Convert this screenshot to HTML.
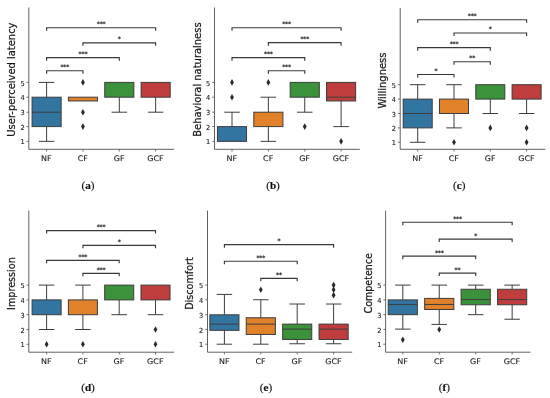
<!DOCTYPE html>
<html lang="en"><head><meta charset="utf-8"><title>Figure</title>
<style>html,body{margin:0;padding:0;background:#fff;}body{width:550px;height:398px;overflow:hidden;}svg{display:block;}.t{font-family:"DejaVu Sans","Liberation Sans",sans-serif;fill:#1a1a1a;}.t{stroke:#1a1a1a;stroke-width:0.25px;}.yt{stroke-width:0.1px;}.xt{stroke-width:0.12px;}.s{letter-spacing:-0.15px;stroke-width:0.22px;fill:#333;stroke:#333;}.cap{font-family:"Liberation Serif","DejaVu Serif",serif;fill:#111;font-size:11.2px;stroke:#111;stroke-width:0.15px;}</style></head><body>
<svg width="550" height="398" viewBox="0 0 550 398">
<rect width="550" height="398" fill="#fff"/>
<g id="fig" filter="url(#soft)">
<g id="panel-a">
<path d="M46.6 97.2V82.4M38.85 82.4H54.35" stroke="#3d3d3d" stroke-width="1.0" fill="none"/>
<path d="M46.6 126.6V141.35M38.85 141.35H54.35" stroke="#3d3d3d" stroke-width="1.0" fill="none"/>
<rect x="32.06" y="97.2" width="29.08" height="29.4" fill="#3274a1" stroke="#3d3d3d" stroke-width="1.0"/>
<path d="M32.06 112.2H61.14" stroke="#3d3d3d" stroke-width="1.0"/>
<rect x="68.41" y="97.2" width="29.08" height="3.75" fill="#e1812c" stroke="#3d3d3d" stroke-width="1.0"/>
<path d="M82.95 79.1L84.85 82.4L82.95 85.7L81.05 82.4Z" fill="#2b2b2b"/>
<path d="M82.95 108.9L84.85 112.2L82.95 115.5L81.05 112.2Z" fill="#2b2b2b"/>
<path d="M82.95 123.3L84.85 126.6L82.95 129.9L81.05 126.6Z" fill="#2b2b2b"/>
<path d="M119.3 97.2V112.2M111.55 112.2H127.05" stroke="#3d3d3d" stroke-width="1.0" fill="none"/>
<rect x="104.76" y="82.4" width="29.08" height="14.8" fill="#3a923a" stroke="#3d3d3d" stroke-width="1.0"/>
<path d="M155.65 97.2V112.2M147.9 112.2H163.4" stroke="#3d3d3d" stroke-width="1.0" fill="none"/>
<rect x="141.11" y="82.4" width="29.08" height="14.8" fill="#c03d3e" stroke="#3d3d3d" stroke-width="1.0"/>
<path d="M28.8 7.5V149.3H174.1" stroke="#505050" stroke-width="0.9" fill="none"/>
<path d="M28.8 141.35h-2.3M28.8 126.6h-2.3M28.8 112.2h-2.3M28.8 97.2h-2.3M28.8 82.4h-2.3M46.6 149.3v2.3M82.95 149.3v2.3M119.3 149.3v2.3M155.65 149.3v2.3" stroke="#505050" stroke-width="0.8" fill="none"/>
<text class="t yt" transform="translate(24.6 144.45) scale(1 1.05)" font-size="6.6" text-anchor="end">1</text>
<text class="t yt" transform="translate(24.6 129.7) scale(1 1.05)" font-size="6.6" text-anchor="end">2</text>
<text class="t yt" transform="translate(24.6 115.3) scale(1 1.05)" font-size="6.6" text-anchor="end">3</text>
<text class="t yt" transform="translate(24.6 100.3) scale(1 1.05)" font-size="6.6" text-anchor="end">4</text>
<text class="t yt" transform="translate(24.6 85.5) scale(1 1.05)" font-size="6.6" text-anchor="end">5</text>
<text class="t xt" transform="translate(46.4 160.8) scale(1 0.96)" font-size="8.0" text-anchor="middle">NF</text>
<text class="t xt" transform="translate(82.75 160.8) scale(1 0.96)" font-size="8.0" text-anchor="middle">CF</text>
<text class="t xt" transform="translate(119.1 160.8) scale(1 0.96)" font-size="8.0" text-anchor="middle">GF</text>
<text class="t xt" transform="translate(155.45 160.8) scale(1 0.96)" font-size="8.0" text-anchor="middle">GCF</text>
<text class="t" font-size="11.3" text-anchor="middle" transform="translate(15.4 79.6) rotate(-90) scale(0.881 1)">User-perceived latency</text>
<path d="M46.6 73.75V70.75H82.95V73.75" stroke="#383838" stroke-width="1.15" fill="none"/>
<text class="t s" font-size="6.1" text-anchor="middle" x="64.78" y="69.25">***</text>
<path d="M46.6 60.65V57.65H119.3V60.65" stroke="#383838" stroke-width="1.15" fill="none"/>
<text class="t s" font-size="6.1" text-anchor="middle" x="82.95" y="56.15">***</text>
<path d="M82.95 45.85V42.85H155.65V45.85" stroke="#383838" stroke-width="1.15" fill="none"/>
<text class="t s" font-size="6.1" text-anchor="middle" x="119.3" y="41.35">*</text>
<path d="M46.6 30.75V27.75H155.65V30.75" stroke="#383838" stroke-width="1.15" fill="none"/>
<text class="t s" font-size="6.1" text-anchor="middle" x="101.12" y="26.25">***</text>
</g>
<text class="cap" text-anchor="middle" x="88" y="188.5">(<tspan font-weight="bold">a</tspan>)</text>
<g id="panel-b">
<path d="M232 126.6V112.2M224.25 112.2H239.75" stroke="#3d3d3d" stroke-width="1.0" fill="none"/>
<rect x="217.45" y="126.6" width="29.1" height="14.75" fill="#3274a1" stroke="#3d3d3d" stroke-width="1.0"/>
<path d="M232 93.9L233.9 97.2L232 100.5L230.1 97.2Z" fill="#2b2b2b"/>
<path d="M232 79.1L233.9 82.4L232 85.7L230.1 82.4Z" fill="#2b2b2b"/>
<path d="M268.37 112.2V97.2M260.62 97.2H276.12" stroke="#3d3d3d" stroke-width="1.0" fill="none"/>
<path d="M268.37 126.6V141.35M260.62 141.35H276.12" stroke="#3d3d3d" stroke-width="1.0" fill="none"/>
<rect x="253.82" y="112.2" width="29.1" height="14.4" fill="#e1812c" stroke="#3d3d3d" stroke-width="1.0"/>
<path d="M268.37 79.1L270.27 82.4L268.37 85.7L266.47 82.4Z" fill="#2b2b2b"/>
<path d="M304.74 97.2V112.2M296.99 112.2H312.49" stroke="#3d3d3d" stroke-width="1.0" fill="none"/>
<rect x="290.19" y="82.4" width="29.1" height="14.8" fill="#3a923a" stroke="#3d3d3d" stroke-width="1.0"/>
<path d="M304.74 123.3L306.64 126.6L304.74 129.9L302.84 126.6Z" fill="#2b2b2b"/>
<path d="M341.11 100.95V126.6M333.36 126.6H348.86" stroke="#3d3d3d" stroke-width="1.0" fill="none"/>
<rect x="326.56" y="82.4" width="29.1" height="18.55" fill="#c03d3e" stroke="#3d3d3d" stroke-width="1.0"/>
<path d="M326.56 97.2H355.66" stroke="#3d3d3d" stroke-width="1.0"/>
<path d="M341.11 138.05L343.01 141.35L341.11 144.65L339.21 141.35Z" fill="#2b2b2b"/>
<path d="M214.5 7.5V149.3H359.8" stroke="#505050" stroke-width="0.9" fill="none"/>
<path d="M214.5 141.35h-2.3M214.5 126.6h-2.3M214.5 112.2h-2.3M214.5 97.2h-2.3M214.5 82.4h-2.3M232 149.3v2.3M268.37 149.3v2.3M304.74 149.3v2.3M341.11 149.3v2.3" stroke="#505050" stroke-width="0.8" fill="none"/>
<text class="t yt" transform="translate(210.3 144.45) scale(1 1.05)" font-size="6.6" text-anchor="end">1</text>
<text class="t yt" transform="translate(210.3 129.7) scale(1 1.05)" font-size="6.6" text-anchor="end">2</text>
<text class="t yt" transform="translate(210.3 115.3) scale(1 1.05)" font-size="6.6" text-anchor="end">3</text>
<text class="t yt" transform="translate(210.3 100.3) scale(1 1.05)" font-size="6.6" text-anchor="end">4</text>
<text class="t yt" transform="translate(210.3 85.5) scale(1 1.05)" font-size="6.6" text-anchor="end">5</text>
<text class="t xt" transform="translate(231.8 160.8) scale(1 0.96)" font-size="8.0" text-anchor="middle">NF</text>
<text class="t xt" transform="translate(268.17 160.8) scale(1 0.96)" font-size="8.0" text-anchor="middle">CF</text>
<text class="t xt" transform="translate(304.54 160.8) scale(1 0.96)" font-size="8.0" text-anchor="middle">GF</text>
<text class="t xt" transform="translate(340.91 160.8) scale(1 0.96)" font-size="8.0" text-anchor="middle">GCF</text>
<text class="t" font-size="11.3" text-anchor="middle" transform="translate(200.7 79.6) rotate(-90) scale(0.881 1)">Behavioral naturalness</text>
<path d="M268.37 73.75V70.75H304.74V73.75" stroke="#383838" stroke-width="1.15" fill="none"/>
<text class="t s" font-size="6.1" text-anchor="middle" x="286.56" y="69.25">***</text>
<path d="M232 60.65V57.65H304.74V60.65" stroke="#383838" stroke-width="1.15" fill="none"/>
<text class="t s" font-size="6.1" text-anchor="middle" x="268.37" y="56.15">***</text>
<path d="M268.37 45.65V42.65H341.11V45.65" stroke="#383838" stroke-width="1.15" fill="none"/>
<text class="t s" font-size="6.1" text-anchor="middle" x="304.74" y="41.15">***</text>
<path d="M232 30.75V27.75H341.11V30.75" stroke="#383838" stroke-width="1.15" fill="none"/>
<text class="t s" font-size="6.1" text-anchor="middle" x="286.56" y="26.25">***</text>
</g>
<text class="cap" text-anchor="middle" x="273" y="188.5">(<tspan font-weight="bold">b</tspan>)</text>
<g id="panel-c">
<path d="M417.7 99.1V84.7M409.95 84.7H425.45" stroke="#3d3d3d" stroke-width="1.0" fill="none"/>
<path d="M417.7 127.9V142.3M409.95 142.3H425.45" stroke="#3d3d3d" stroke-width="1.0" fill="none"/>
<rect x="403.18" y="99.1" width="29.04" height="28.8" fill="#3274a1" stroke="#3d3d3d" stroke-width="1.0"/>
<path d="M403.18 113.5H432.22" stroke="#3d3d3d" stroke-width="1.0"/>
<path d="M454 99.1V84.7M446.25 84.7H461.75" stroke="#3d3d3d" stroke-width="1.0" fill="none"/>
<path d="M454 113.5V127.9M446.25 127.9H461.75" stroke="#3d3d3d" stroke-width="1.0" fill="none"/>
<rect x="439.48" y="99.1" width="29.04" height="14.4" fill="#e1812c" stroke="#3d3d3d" stroke-width="1.0"/>
<path d="M454 139L455.9 142.3L454 145.6L452.1 142.3Z" fill="#2b2b2b"/>
<path d="M490.3 99.1V113.5M482.55 113.5H498.05" stroke="#3d3d3d" stroke-width="1.0" fill="none"/>
<rect x="475.78" y="84.7" width="29.04" height="14.4" fill="#3a923a" stroke="#3d3d3d" stroke-width="1.0"/>
<path d="M490.3 124.6L492.2 127.9L490.3 131.2L488.4 127.9Z" fill="#2b2b2b"/>
<path d="M526.6 99.1V113.5M518.85 113.5H534.35" stroke="#3d3d3d" stroke-width="1.0" fill="none"/>
<rect x="512.08" y="84.7" width="29.04" height="14.4" fill="#c03d3e" stroke="#3d3d3d" stroke-width="1.0"/>
<path d="M526.6 124.6L528.5 127.9L526.6 131.2L524.7 127.9Z" fill="#2b2b2b"/>
<path d="M526.6 139L528.5 142.3L526.6 145.6L524.7 142.3Z" fill="#2b2b2b"/>
<path d="M400.2 7.9V149.3H545.3" stroke="#505050" stroke-width="0.9" fill="none"/>
<path d="M400.2 142.3h-2.3M400.2 127.9h-2.3M400.2 113.5h-2.3M400.2 99.1h-2.3M400.2 84.7h-2.3M417.7 149.3v2.3M454 149.3v2.3M490.3 149.3v2.3M526.6 149.3v2.3" stroke="#505050" stroke-width="0.8" fill="none"/>
<text class="t yt" transform="translate(396 145.4) scale(1 1.05)" font-size="6.6" text-anchor="end">1</text>
<text class="t yt" transform="translate(396 131) scale(1 1.05)" font-size="6.6" text-anchor="end">2</text>
<text class="t yt" transform="translate(396 116.6) scale(1 1.05)" font-size="6.6" text-anchor="end">3</text>
<text class="t yt" transform="translate(396 102.2) scale(1 1.05)" font-size="6.6" text-anchor="end">4</text>
<text class="t yt" transform="translate(396 87.8) scale(1 1.05)" font-size="6.6" text-anchor="end">5</text>
<text class="t xt" transform="translate(417.5 160.8) scale(1 0.96)" font-size="8.0" text-anchor="middle">NF</text>
<text class="t xt" transform="translate(453.8 160.8) scale(1 0.96)" font-size="8.0" text-anchor="middle">CF</text>
<text class="t xt" transform="translate(490.1 160.8) scale(1 0.96)" font-size="8.0" text-anchor="middle">GF</text>
<text class="t xt" transform="translate(526.4 160.8) scale(1 0.96)" font-size="8.0" text-anchor="middle">GCF</text>
<text class="t" font-size="11.3" text-anchor="middle" transform="translate(386.3 80.6) rotate(-90) scale(0.881 1)">Willingness</text>
<path d="M417.7 77.45V74.45H454V77.45" stroke="#383838" stroke-width="1.15" fill="none"/>
<text class="t s" font-size="6.1" text-anchor="middle" x="435.85" y="72.95">*</text>
<path d="M454 64.75V61.75H490.3V64.75" stroke="#383838" stroke-width="1.15" fill="none"/>
<text class="t s" font-size="6.1" text-anchor="middle" x="472.15" y="60.25">**</text>
<path d="M417.7 50.65V47.65H490.3V50.65" stroke="#383838" stroke-width="1.15" fill="none"/>
<text class="t s" font-size="6.1" text-anchor="middle" x="454" y="46.15">***</text>
<path d="M454 35.95V32.95H526.6V35.95" stroke="#383838" stroke-width="1.15" fill="none"/>
<text class="t s" font-size="6.1" text-anchor="middle" x="490.3" y="31.45">*</text>
<path d="M417.7 22.75V19.75H526.6V22.75" stroke="#383838" stroke-width="1.15" fill="none"/>
<text class="t s" font-size="6.1" text-anchor="middle" x="472.15" y="18.25">***</text>
</g>
<text class="cap" text-anchor="middle" x="459.3" y="188.5">(<tspan font-weight="bold">c</tspan>)</text>
<g id="panel-d">
<path d="M46.6 299.9V285.1M38.85 285.1H54.35" stroke="#3d3d3d" stroke-width="1.0" fill="none"/>
<path d="M46.6 314.7V329.5M38.85 329.5H54.35" stroke="#3d3d3d" stroke-width="1.0" fill="none"/>
<rect x="32.08" y="299.9" width="29.04" height="14.8" fill="#3274a1" stroke="#3d3d3d" stroke-width="1.0"/>
<path d="M46.6 341L48.5 344.3L46.6 347.6L44.7 344.3Z" fill="#2b2b2b"/>
<path d="M82.9 299.9V285.1M75.15 285.1H90.65" stroke="#3d3d3d" stroke-width="1.0" fill="none"/>
<path d="M82.9 314.7V329.5M75.15 329.5H90.65" stroke="#3d3d3d" stroke-width="1.0" fill="none"/>
<rect x="68.38" y="299.9" width="29.04" height="14.8" fill="#e1812c" stroke="#3d3d3d" stroke-width="1.0"/>
<path d="M82.9 341L84.8 344.3L82.9 347.6L81 344.3Z" fill="#2b2b2b"/>
<path d="M119.2 299.9V314.7M111.45 314.7H126.95" stroke="#3d3d3d" stroke-width="1.0" fill="none"/>
<rect x="104.68" y="285.1" width="29.04" height="14.8" fill="#3a923a" stroke="#3d3d3d" stroke-width="1.0"/>
<path d="M155.5 299.9V314.7M147.75 314.7H163.25" stroke="#3d3d3d" stroke-width="1.0" fill="none"/>
<rect x="140.98" y="285.1" width="29.04" height="14.8" fill="#c03d3e" stroke="#3d3d3d" stroke-width="1.0"/>
<path d="M155.5 326.2L157.4 329.5L155.5 332.8L153.6 329.5Z" fill="#2b2b2b"/>
<path d="M155.5 341L157.4 344.3L155.5 347.6L153.6 344.3Z" fill="#2b2b2b"/>
<path d="M28.8 210.6V352.2H174.2" stroke="#505050" stroke-width="0.9" fill="none"/>
<path d="M28.8 344.3h-2.3M28.8 329.5h-2.3M28.8 314.7h-2.3M28.8 299.9h-2.3M28.8 285.1h-2.3M46.6 352.2v2.3M82.9 352.2v2.3M119.2 352.2v2.3M155.5 352.2v2.3" stroke="#505050" stroke-width="0.8" fill="none"/>
<text class="t yt" transform="translate(24.6 347.4) scale(1 1.05)" font-size="6.6" text-anchor="end">1</text>
<text class="t yt" transform="translate(24.6 332.6) scale(1 1.05)" font-size="6.6" text-anchor="end">2</text>
<text class="t yt" transform="translate(24.6 317.8) scale(1 1.05)" font-size="6.6" text-anchor="end">3</text>
<text class="t yt" transform="translate(24.6 303) scale(1 1.05)" font-size="6.6" text-anchor="end">4</text>
<text class="t yt" transform="translate(24.6 288.2) scale(1 1.05)" font-size="6.6" text-anchor="end">5</text>
<text class="t xt" transform="translate(46.4 363.7) scale(1 0.96)" font-size="8.0" text-anchor="middle">NF</text>
<text class="t xt" transform="translate(82.7 363.7) scale(1 0.96)" font-size="8.0" text-anchor="middle">CF</text>
<text class="t xt" transform="translate(119 363.7) scale(1 0.96)" font-size="8.0" text-anchor="middle">GF</text>
<text class="t xt" transform="translate(155.3 363.7) scale(1 0.96)" font-size="8.0" text-anchor="middle">GCF</text>
<text class="t" font-size="11.0" text-anchor="middle" transform="translate(15.4 283.6) rotate(-90) scale(0.875 1)">Impression</text>
<path d="M82.9 276.35V273.35H119.2V276.35" stroke="#383838" stroke-width="1.15" fill="none"/>
<text class="t s" font-size="6.1" text-anchor="middle" x="101.05" y="271.85">***</text>
<path d="M46.6 263.35V260.35H119.2V263.35" stroke="#383838" stroke-width="1.15" fill="none"/>
<text class="t s" font-size="6.1" text-anchor="middle" x="82.9" y="258.85">***</text>
<path d="M82.9 248.35V245.35H155.5V248.35" stroke="#383838" stroke-width="1.15" fill="none"/>
<text class="t s" font-size="6.1" text-anchor="middle" x="119.2" y="243.85">*</text>
<path d="M46.6 233.55V230.55H155.5V233.55" stroke="#383838" stroke-width="1.15" fill="none"/>
<text class="t s" font-size="6.1" text-anchor="middle" x="101.05" y="229.05">***</text>
</g>
<text class="cap" text-anchor="middle" x="88" y="390.6">(<tspan font-weight="bold">d</tspan>)</text>
<g id="panel-e">
<path d="M224.4 314.81V294.43M216.65 294.43H232.15" stroke="#3d3d3d" stroke-width="1.0" fill="none"/>
<path d="M224.4 330.32V344.2M216.65 344.2H232.15" stroke="#3d3d3d" stroke-width="1.0" fill="none"/>
<rect x="209.84" y="314.81" width="29.12" height="15.51" fill="#3274a1" stroke="#3d3d3d" stroke-width="1.0"/>
<path d="M209.84 324.11H238.96" stroke="#3d3d3d" stroke-width="1.0"/>
<path d="M260.8 317.76V299.74M253.05 299.74H268.55" stroke="#3d3d3d" stroke-width="1.0" fill="none"/>
<path d="M260.8 334.45V344.2M253.05 344.2H268.55" stroke="#3d3d3d" stroke-width="1.0" fill="none"/>
<rect x="246.24" y="317.76" width="29.12" height="16.69" fill="#e1812c" stroke="#3d3d3d" stroke-width="1.0"/>
<path d="M246.24 324.11H275.36" stroke="#3d3d3d" stroke-width="1.0"/>
<path d="M260.8 286.4L262.7 289.7L260.8 293L258.9 289.7Z" fill="#2b2b2b"/>
<path d="M297.2 324.11V304.03M289.45 304.03H304.95" stroke="#3d3d3d" stroke-width="1.0" fill="none"/>
<path d="M297.2 339.47V343.76M289.45 343.76H304.95" stroke="#3d3d3d" stroke-width="1.0" fill="none"/>
<rect x="282.64" y="324.11" width="29.12" height="15.36" fill="#3a923a" stroke="#3d3d3d" stroke-width="1.0"/>
<path d="M282.64 329.13H311.76" stroke="#3d3d3d" stroke-width="1.0"/>
<path d="M333.6 324.11V304.03M325.85 304.03H341.35" stroke="#3d3d3d" stroke-width="1.0" fill="none"/>
<path d="M333.6 339.47V343.76M325.85 343.76H341.35" stroke="#3d3d3d" stroke-width="1.0" fill="none"/>
<rect x="319.04" y="324.11" width="29.12" height="15.36" fill="#c03d3e" stroke="#3d3d3d" stroke-width="1.0"/>
<path d="M319.04 329.13H348.16" stroke="#3d3d3d" stroke-width="1.0"/>
<path d="M333.6 291.86L335.5 295.16L333.6 298.46L331.7 295.16Z" fill="#2b2b2b"/>
<path d="M333.6 286.4L335.5 289.7L333.6 293L331.7 289.7Z" fill="#2b2b2b"/>
<path d="M333.6 281.82L335.5 285.12L333.6 288.42L331.7 285.12Z" fill="#2b2b2b"/>
<path d="M207.5 210.6V352.2H352.2" stroke="#505050" stroke-width="0.9" fill="none"/>
<path d="M207.5 344.2h-2.3M207.5 329.43h-2.3M207.5 314.66h-2.3M207.5 299.89h-2.3M207.5 285.12h-2.3M224.4 352.2v2.3M260.8 352.2v2.3M297.2 352.2v2.3M333.6 352.2v2.3" stroke="#505050" stroke-width="0.8" fill="none"/>
<text class="t yt" transform="translate(203.3 347.3) scale(1 1.05)" font-size="6.6" text-anchor="end">1</text>
<text class="t yt" transform="translate(203.3 332.53) scale(1 1.05)" font-size="6.6" text-anchor="end">2</text>
<text class="t yt" transform="translate(203.3 317.76) scale(1 1.05)" font-size="6.6" text-anchor="end">3</text>
<text class="t yt" transform="translate(203.3 302.99) scale(1 1.05)" font-size="6.6" text-anchor="end">4</text>
<text class="t yt" transform="translate(203.3 288.22) scale(1 1.05)" font-size="6.6" text-anchor="end">5</text>
<text class="t xt" transform="translate(224.2 363.7) scale(1 0.96)" font-size="8.0" text-anchor="middle">NF</text>
<text class="t xt" transform="translate(260.6 363.7) scale(1 0.96)" font-size="8.0" text-anchor="middle">CF</text>
<text class="t xt" transform="translate(297 363.7) scale(1 0.96)" font-size="8.0" text-anchor="middle">GF</text>
<text class="t xt" transform="translate(333.4 363.7) scale(1 0.96)" font-size="8.0" text-anchor="middle">GCF</text>
<text class="t" font-size="11.0" text-anchor="middle" transform="translate(193.1 283.5) rotate(-90) scale(0.876 1)">Discomfort</text>
<path d="M260.8 281.35V278.35H297.2V281.35" stroke="#383838" stroke-width="1.15" fill="none"/>
<text class="t s" font-size="6.1" text-anchor="middle" x="279" y="276.85">**</text>
<path d="M224.4 264.25V261.25H297.2V264.25" stroke="#383838" stroke-width="1.15" fill="none"/>
<text class="t s" font-size="6.1" text-anchor="middle" x="260.8" y="259.75">***</text>
<path d="M224.4 247.65V244.65H333.6V247.65" stroke="#383838" stroke-width="1.15" fill="none"/>
<text class="t s" font-size="6.1" text-anchor="middle" x="279" y="243.15">*</text>
</g>
<text class="cap" text-anchor="middle" x="266" y="390.6">(<tspan font-weight="bold">e</tspan>)</text>
<g id="panel-f">
<path d="M402.8 299.89V285.12M395.05 285.12H410.55" stroke="#3d3d3d" stroke-width="1.0" fill="none"/>
<path d="M402.8 314.66V329.13M395.05 329.13H410.55" stroke="#3d3d3d" stroke-width="1.0" fill="none"/>
<rect x="388.22" y="299.89" width="29.16" height="14.77" fill="#3274a1" stroke="#3d3d3d" stroke-width="1.0"/>
<path d="M388.22 304.47H417.38" stroke="#3d3d3d" stroke-width="1.0"/>
<path d="M402.8 336.47L404.7 339.77L402.8 343.07L400.9 339.77Z" fill="#2b2b2b"/>
<path d="M439.25 298.41V285.12M431.5 285.12H447" stroke="#3d3d3d" stroke-width="1.0" fill="none"/>
<path d="M439.25 309.49V324.41M431.5 324.41H447" stroke="#3d3d3d" stroke-width="1.0" fill="none"/>
<rect x="424.67" y="298.41" width="29.16" height="11.08" fill="#e1812c" stroke="#3d3d3d" stroke-width="1.0"/>
<path d="M424.67 304.47H453.83" stroke="#3d3d3d" stroke-width="1.0"/>
<path d="M439.25 326.13L441.15 329.43L439.25 332.73L437.35 329.43Z" fill="#2b2b2b"/>
<path d="M475.7 289.26V285.12M467.95 285.12H483.45" stroke="#3d3d3d" stroke-width="1.0" fill="none"/>
<path d="M475.7 304.76V314.66M467.95 314.66H483.45" stroke="#3d3d3d" stroke-width="1.0" fill="none"/>
<rect x="461.12" y="289.26" width="29.16" height="15.51" fill="#3a923a" stroke="#3d3d3d" stroke-width="1.0"/>
<path d="M461.12 299.59H490.28" stroke="#3d3d3d" stroke-width="1.0"/>
<path d="M512.15 289.26V285.12M504.4 285.12H519.9" stroke="#3d3d3d" stroke-width="1.0" fill="none"/>
<path d="M512.15 304.76V319.24M504.4 319.24H519.9" stroke="#3d3d3d" stroke-width="1.0" fill="none"/>
<rect x="497.57" y="289.26" width="29.16" height="15.51" fill="#c03d3e" stroke="#3d3d3d" stroke-width="1.0"/>
<path d="M497.57 299.59H526.73" stroke="#3d3d3d" stroke-width="1.0"/>
<path d="M385.6 210.6V352.2H530.4" stroke="#505050" stroke-width="0.9" fill="none"/>
<path d="M385.6 344.2h-2.3M385.6 329.43h-2.3M385.6 314.66h-2.3M385.6 299.89h-2.3M385.6 285.12h-2.3M402.8 352.2v2.3M439.25 352.2v2.3M475.7 352.2v2.3M512.15 352.2v2.3" stroke="#505050" stroke-width="0.8" fill="none"/>
<text class="t yt" transform="translate(381.4 347.3) scale(1 1.05)" font-size="6.6" text-anchor="end">1</text>
<text class="t yt" transform="translate(381.4 332.53) scale(1 1.05)" font-size="6.6" text-anchor="end">2</text>
<text class="t yt" transform="translate(381.4 317.76) scale(1 1.05)" font-size="6.6" text-anchor="end">3</text>
<text class="t yt" transform="translate(381.4 302.99) scale(1 1.05)" font-size="6.6" text-anchor="end">4</text>
<text class="t yt" transform="translate(381.4 288.22) scale(1 1.05)" font-size="6.6" text-anchor="end">5</text>
<text class="t xt" transform="translate(402.6 363.7) scale(1 0.96)" font-size="8.0" text-anchor="middle">NF</text>
<text class="t xt" transform="translate(439.05 363.7) scale(1 0.96)" font-size="8.0" text-anchor="middle">CF</text>
<text class="t xt" transform="translate(475.5 363.7) scale(1 0.96)" font-size="8.0" text-anchor="middle">GF</text>
<text class="t xt" transform="translate(511.95 363.7) scale(1 0.96)" font-size="8.0" text-anchor="middle">GCF</text>
<text class="t" font-size="11.0" text-anchor="middle" transform="translate(372.2 283.3) rotate(-90) scale(0.866 1)">Competence</text>
<path d="M439.25 276.05V273.05H475.7V276.05" stroke="#383838" stroke-width="1.15" fill="none"/>
<text class="t s" font-size="6.1" text-anchor="middle" x="457.48" y="271.55">**</text>
<path d="M402.8 259.15V256.15H475.7V259.15" stroke="#383838" stroke-width="1.15" fill="none"/>
<text class="t s" font-size="6.1" text-anchor="middle" x="439.25" y="254.65">***</text>
<path d="M439.25 242.05V239.05H512.15V242.05" stroke="#383838" stroke-width="1.15" fill="none"/>
<text class="t s" font-size="6.1" text-anchor="middle" x="475.7" y="237.55">*</text>
<path d="M402.8 225.25V222.25H512.15V225.25" stroke="#383838" stroke-width="1.15" fill="none"/>
<text class="t s" font-size="6.1" text-anchor="middle" x="457.48" y="220.75">***</text>
</g>
<text class="cap" text-anchor="middle" x="444.4" y="390.6">(<tspan font-weight="bold">f</tspan>)</text>
</g>
<defs><filter id="soft" x="0" y="0" width="550" height="398" filterUnits="userSpaceOnUse"><feGaussianBlur stdDeviation="0.35"/></filter></defs>
</svg></body></html>
